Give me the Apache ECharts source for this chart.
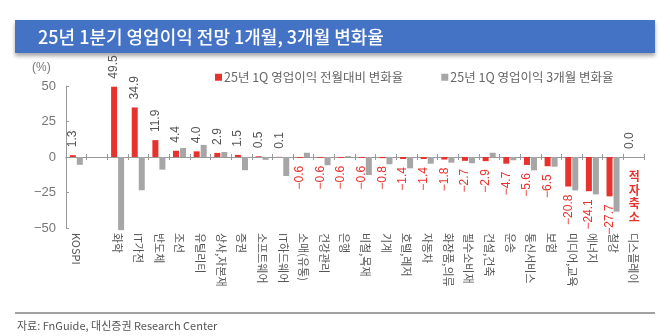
<!DOCTYPE html>
<html>
<head>
<meta charset="utf-8">
<script src="https://cdn.jsdelivr.net/npm/echarts@6/dist/echarts.min.js"></script>
<style>
html,body{margin:0;padding:0;background:#fff;}
#c{width:670px;height:336px;}
</style>
</head>
<body>
<div id="c"></div>
<script>
const titleText = '25년 1분기 영업이익 전망 1개월, 3개월 변화율';
const sourceText = '자료: FnGuide, 대신증권 Research Center';
const seriesNames = ['25년 1Q 영업이익 전월대비 변화율', '25년 1Q 영업이익 3개월 변화율'];
const categories = ['KOSPI', '', '화학', 'IT가전', '반도체', '조선', '유틸리티', '상사,자본재', '증권', '소프트웨어',
  'IT하드웨어', '소매(유통)', '건강관리', '은행', '비철,목재', '기계', '호텔,레저', '자동차', '화장품,의류',
  '필수소비재', '건설,건축', '운송', '통신서비스', '보험', '미디어,교육', '에너지', '철강', '디스플레이'];
const monthChange = [1.3, null, 49.5, 34.9, 11.9, 4.4, 4.0, 2.9, 1.5, 0.5,
  0.1, -0.6, -0.6, -0.6, -0.6, -0.8, -1.4, -1.4, -1.8,
  -2.7, -2.9, -4.7, -5.6, -6.5, -20.8, -24.1, -27.7, 0.0];
const threeMonthChange = [-5.5, null, -51.5, -23.4, -8.9, 6.3, 8.5, 3.5, -9.3, -2.0,
  -13.4, 3.0, -5.8, 0.6, -12.7, -5.1, -8.0, -4.7, -4.0,
  -4.4, 3.0, -2.3, -9.4, -6.8, -23.5, -26.3, -38.5, null];
const notes = ['', '', '', '', '', '', '', '', '', '', '', '', '', '', '', '', '', '', '', '', '', '', '', '', '', '', '', '적자축소'];
const yTicks = [-50, -25, 0, 25, 50];

const RED = '#e8322d', GRAY = '#a6a6a6';
const numFont = "'Liberation Sans', Arial, sans-serif";
const krFont = "'Noto Sans CJK KR', 'Liberation Sans', sans-serif";

const posLabel = {show: true, position: 'top', rotate: 90, align: 'left', verticalAlign: 'middle',
  distance: 8, color: '#555', fontSize: 12, fontFamily: numFont,
  formatter: p => p.value.toFixed(1)};
const negLabel = {show: true, position: 'bottom', rotate: 90, align: 'right', verticalAlign: 'middle',
  distance: 8, color: RED, fontSize: 12, fontFamily: numFont,
  formatter: p => '\u2212' + Math.abs(p.value).toFixed(1)};

const redData = monthChange.map(v => v == null ? null : {value: v, label: v >= 0 ? posLabel : negLabel});
const grayData = threeMonthChange.map((v, i) => {
  if (notes[i]) {
    return {value: 0, label: {show: true, position: 'bottom', distance: 13, offset: [-3, 0],
      formatter: notes[i].split('').join('\n'), color: RED, fontWeight: 'bold', fontSize: 12,
      lineHeight: 13.5, fontFamily: krFont}};
  }
  return v;
});

const chart = echarts.init(document.getElementById('c'), null, {renderer: 'canvas'});
const baseCat = {type: 'category', data: categories, boundaryGap: true};
chart.setOption({
  animation: false,
  grid: {left: 66, right: 26, top: 86, bottom: 108, containLabel: false},
  legend: {
    top: 66, left: 210, itemWidth: 7, itemHeight: 7, itemGap: 38, icon: 'rect',
    textStyle: {fontSize: 12.5, color: '#666', fontFamily: krFont, padding: [0, 0, 0, -3]},
    data: seriesNames
  },
  xAxis: [
    Object.assign({}, baseCat, {
      position: 'bottom', axisLine: {show: false, onZero: false}, axisTick: {show: false},
      axisLabel: {rotate: -90, margin: 5, fontSize: 11, color: '#555', fontFamily: krFont, interval: 0}
    }),
    Object.assign({}, baseCat, {
      position: 'bottom', axisLine: {show: true, onZero: true, onZeroAxisIndex: 0, lineStyle: {color: '#999'}},
      axisTick: {show: true, length: 3, interval: 0, lineStyle: {color: '#999'}}, axisLabel: {show: false}
    }),
    Object.assign({}, baseCat, {
      position: 'top', axisLine: {show: true, onZero: true, onZeroAxisIndex: 0, lineStyle: {color: '#999'}},
      axisTick: {show: true, length: 3, interval: 0, lineStyle: {color: '#999'}}, axisLabel: {show: false}
    })
  ],
  yAxis: {
    type: 'value', min: yTicks[0], max: yTicks[yTicks.length - 1], interval: 25,
    axisLine: {show: true, lineStyle: {color: '#999'}},
    axisTick: {show: true, inside: true, length: 3, lineStyle: {color: '#999'}},
    splitLine: {show: false},
    axisLabel: {fontSize: 13, color: '#777', margin: 10, fontFamily: numFont,
      formatter: v => v < 0 ? '\u2212' + Math.abs(v) : String(v)}
  },
  series: [
    {name: seriesNames[0], type: 'bar', xAxisIndex: 0, data: redData, barWidth: 6, barGap: '17%',
      itemStyle: {color: RED}, clip: false},
    {name: seriesNames[1], type: 'bar', xAxisIndex: 0, data: grayData, barWidth: 6, barGap: '17%',
      itemStyle: {color: GRAY}, clip: false}
  ],
  graphic: [
    {type: 'rect', shape: {x: 15, y: 20, width: 640, height: 33},
      style: {fill: '#4472c4', shadowBlur: 4, shadowOffsetY: 3, shadowColor: 'rgba(0,0,0,0.35)'}},
    {type: 'text', x: 38, y: 37, style: {text: titleText, fill: '#fff', fontSize: 18, fontWeight: 500,
      fontFamily: krFont, verticalAlign: 'middle'}},
    {type: 'text', x: 32, y: 68, style: {text: '(%)', fill: '#777', fontSize: 12, fontFamily: numFont,
      verticalAlign: 'middle'}},
    {type: 'line', shape: {x1: 15, y1: 313, x2: 655, y2: 313}, style: {stroke: '#444', lineWidth: 1}},
    {type: 'text', x: 17, y: 326, style: {text: sourceText, fill: '#555', fontSize: 11, fontFamily: krFont,
      verticalAlign: 'middle'}}
  ]
});
</script>
</body>
</html>
